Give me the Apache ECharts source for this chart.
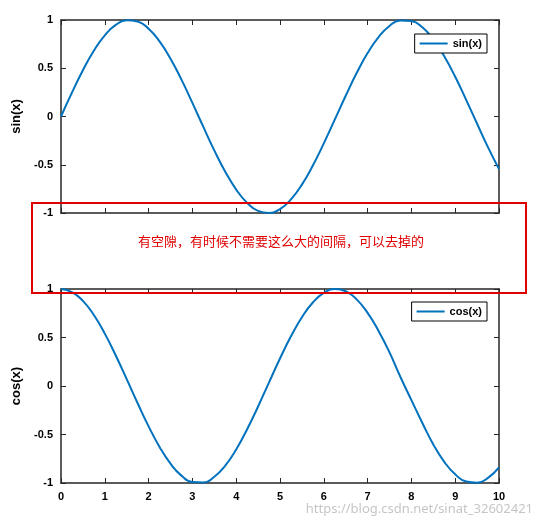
<!DOCTYPE html>
<html>
<head>
<meta charset="utf-8">
<script src="https://cdn.jsdelivr.net/npm/echarts@6/dist/echarts.min.js"></script>
<style>body{margin:0;background:#fff}#chart{width:541px;height:524px}</style>
</head>
<body>
<div id="chart"></div>
<script>
// sample points
var xs = [0,0.25,0.5,0.75,1,1.25,1.5,1.75,2,2.25,2.5,2.75,3,3.25,3.5,3.75,4,4.25,4.5,4.75,5,
	5.25,5.5,5.75,6,6.25,6.5,6.75,7,7.25,7.5,7.75,8,8.25,8.5,8.75,9,9.25,9.5,9.75,10];
var sinVals = [0,0.247,0.479,0.682,0.841,0.949,0.997,0.984,0.909,0.778,0.598,0.382,0.141,-0.108,-0.351,-0.572,-0.757,-0.895,-0.978,-0.999,-0.959,
	-0.859,-0.706,-0.508,-0.279,-0.033,0.215,0.450,0.657,0.823,0.938,0.996,0.989,0.925,0.798,0.624,0.412,0.173,-0.075,-0.320,-0.544];
var cosVals = [1,0.969,0.878,0.732,0.540,0.315,0.071,-0.178,-0.416,-0.628,-0.801,-0.924,-0.990,-0.994,-0.936,-0.821,-0.654,-0.446,-0.211,0.038,0.284,
	0.512,0.709,0.861,0.960,0.999,0.977,0.893,0.754,0.568,0.347,0.093,-0.146,-0.381,-0.602,-0.782,-0.911,-0.985,-0.997,-0.947,-0.839];

function pairs(v){
	var r = [];
	for(var i=0;i<xs.length;i++) r.push([xs[i], v[i]]);
	return r;
}

var chart = echarts.init(document.getElementById('chart'));
var lbl = {color:'#000', fontFamily:'Arial', fontWeight:'bold', fontSize:11};
var line = {show:true, onZero:false, lineStyle:{color:'#262626', width:1.5}};
function xAx(grid, pos, showLabel){
	return {type:'value', gridIndex:grid, position:pos, min:0, max:10, interval:1,
		axisLine:line, axisTick:{inside:true, length:5, lineStyle:{color:'#262626'}},
		axisLabel:showLabel ? lbl : {show:false}, splitLine:{show:false}};
}
function yAx(grid, pos, name){
	return {type:'value', gridIndex:grid, position:pos, min:-1, max:1, interval:0.5,
		name:name, nameLocation:'middle', nameGap:34, nameRotate:90,
		nameTextStyle:{color:'#000', fontFamily:'Arial', fontWeight:'bold', fontSize:13},
		axisLine:line, axisTick:{inside:true, length:5, lineStyle:{color:'#262626'}},
		axisLabel:name ? Object.assign({formatter:function(v){return String(v);}}, lbl) : {show:false},
		splitLine:{show:false}};
}
function legendAt(name, top){
	return {data:[{name:name, icon:'rect'}], right:54, top:top, orient:'vertical', itemWidth:28, itemHeight:2, itemGap:0,
		padding:[4,5,4,5], borderColor:'#000', borderWidth:1, backgroundColor:'#fff',
		textStyle:{color:'#000', fontFamily:'Arial', fontWeight:'bold', fontSize:11}};
}
var option = {
	animation:false,
	grid:[
		{left:61, right:42, top:20, height:193},
		{left:61, right:42, top:289, height:194}
	],
	xAxis:[xAx(0,'bottom',false), xAx(0,'top',false), xAx(1,'bottom',true), xAx(1,'top',false)],
	yAxis:[yAx(0,'left','sin(x)'), yAx(0,'right',''), yAx(1,'left','cos(x)'), yAx(1,'right','')],
	legend:[legendAt('sin(x)', 34), legendAt('cos(x)', 302)],
	series:[
		{name:'sin(x)', type:'line', xAxisIndex:0, yAxisIndex:0, data:pairs(sinVals), smooth:true,
			showSymbol:false, lineStyle:{color:'#0072BD', width:2}, itemStyle:{color:'#0072BD'}},
		{name:'cos(x)', type:'line', xAxisIndex:2, yAxisIndex:2, data:pairs(cosVals), smooth:true,
			showSymbol:false, lineStyle:{color:'#0072BD', width:2}, itemStyle:{color:'#0072BD'}}
	],
	graphic:[
		{type:'rect', shape:{x:32, y:203, width:494, height:90}, style:{fill:'none', stroke:'#e00000', lineWidth:2}, z:100},
		{type:'text', x:281, y:241, style:{text:'有空隙，有时候不需要这么大的间隔，可以去掉的', fill:'#e00000',
			font:'13px "Noto Sans CJK SC"', textAlign:'center', textVerticalAlign:'middle'}, z:100},
		{type:'text', x:533, y:509, style:{text:'https://blog.csdn.net/sinat_32602421', fill:'rgba(150,150,150,0.55)',
			font:'13px "Noto Sans"', textAlign:'right', textVerticalAlign:'middle'}, z:100}
	]
};
chart.setOption(option);
</script>
</body>
</html>
